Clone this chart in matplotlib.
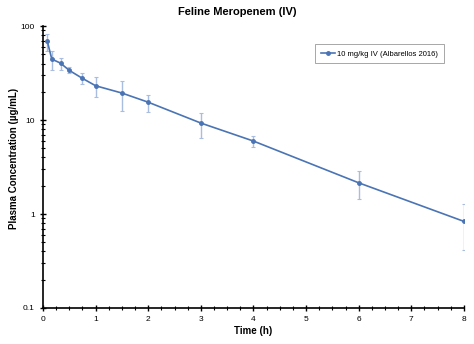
import numpy as np
import matplotlib
matplotlib.use('agg')
import matplotlib.pyplot as plt
from matplotlib.ticker import LogLocator, MultipleLocator, NullFormatter

plt.rcParams['font.family'] = ['Liberation Sans', 'DejaVu Sans']

# time (h) and meropenem concentration (ug/mL)
time = [0.083, 0.167, 0.333, 0.5, 0.75, 1.0, 1.5, 2.0, 3.0, 4.0, 6.0, 8.0]
conc = [68.7, 44.6, 40.4, 33.8, 27.8, 23.2, 19.4, 15.5, 9.3, 5.98, 2.15, 0.835]
err_hi = [81.5, 54.6, 46.0, 36.3, 31.4, 28.5, 26.2, 18.6, 12.0, 6.76, 2.84, 1.27]
err_lo = [54.6, 34.0, 34.3, 31.4, 24.2, 17.4, 12.4, 12.2, 6.4, 5.2, 1.45, 0.41]

line_col = '#4a74b4'
err_col = '#a9bde0'

fig = plt.figure(figsize=(4.74, 3.44), dpi=100)
ax = fig.add_axes([0.0907, 0.1047, 0.888, 0.8193])

conc = np.array(conc)
yerr = [conc - np.array(err_lo), np.array(err_hi) - conc]
ax.errorbar(time, conc, yerr=yerr, fmt='none', ecolor=err_col, elinewidth=1.0,
            capsize=1.5, capthick=0.8, zorder=2)
ax.plot(time, conc, '-o', color=line_col, lw=1.2, ms=2.5,
        label='10 mg/kg IV (Albarellos 2016)', zorder=3)

ax.set_yscale('log')
ax.set_ylim(0.1, 100)
ax.set_xlim(0, 8)
ax.set_yticks([0.1, 1, 10, 100])
ax.set_yticklabels(['0.1', '1', '10', '100'])
ax.yaxis.set_minor_locator(LogLocator(base=10, subs=np.arange(2, 10)))
ax.yaxis.set_minor_formatter(NullFormatter())
ax.xaxis.set_major_locator(MultipleLocator(1))
ax.xaxis.set_minor_locator(MultipleLocator(0.25))

for s in ['top', 'right']:
    ax.spines[s].set_visible(False)
for s in ['left', 'bottom']:
    ax.spines[s].set_linewidth(1.2)

ax.tick_params(which='major', direction='inout', length=5, width=1.0, labelsize=6)
ax.tick_params(which='minor', direction='inout', length=3, width=0.8)

fig.text(0.5, 1 - 12 / 344, 'Feline Meropenem (IV)', fontsize=8,
         fontweight='bold', ha='center', va='center')
ax.set_xlabel('Time (h)', fontsize=7, fontweight='bold', labelpad=2)
ax.set_ylabel('Plasma Concentration (\u00b5g/mL)', fontsize=7, fontweight='bold')
ax.yaxis.set_label_coords(-0.056, 0.53)

leg = ax.legend(loc='upper right', bbox_to_anchor=(0.952, 0.935), fontsize=5.5,
                frameon=True, fancybox=False, edgecolor='#7f7f7f',
                handlelength=1.8, handletextpad=0.3, borderpad=0.75,
                borderaxespad=0)
leg.get_frame().set_linewidth(0.6)

plt.savefig('out.png', dpi=100)
